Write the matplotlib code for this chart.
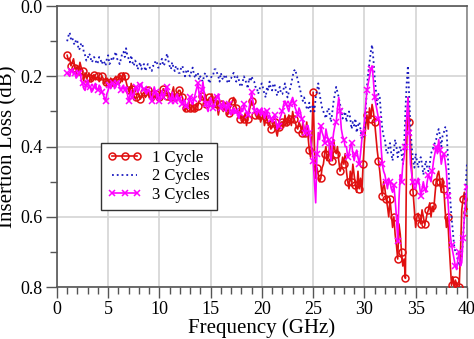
# plot.py
# Insertion loss vs frequency for 1, 2 and 3 cycles

import numpy as np
import matplotlib
matplotlib.use("Agg")
import matplotlib.pyplot as plt
from matplotlib.ticker import MultipleLocator

# frequency grid, 0.125 GHz steps from 1 to 40 GHz
freq = np.arange(1.0, 40.001, 0.125)

# one row of 8 values per GHz
loss_1cycle = [
    0.14, 0.155, 0.15, 0.17, 0.16, 0.15, 0.175, 0.18,
    0.17, 0.185, 0.16, 0.175, 0.185, 0.21, 0.19, 0.205,
    0.20, 0.19, 0.205, 0.215, 0.20, 0.195, 0.21, 0.205,
    0.20, 0.215, 0.21, 0.20, 0.205, 0.22, 0.215, 0.205,
    0.21, 0.22, 0.205, 0.21, 0.215, 0.205, 0.20, 0.21,
    0.21, 0.195, 0.20, 0.215, 0.19, 0.20, 0.215, 0.23,
    0.24, 0.25, 0.22, 0.235, 0.25, 0.265, 0.26, 0.245,
    0.25, 0.265, 0.26, 0.25, 0.245, 0.26, 0.255, 0.24,
    0.26, 0.255, 0.25, 0.27, 0.265, 0.25, 0.255, 0.265,
    0.26, 0.245, 0.25, 0.235, 0.24, 0.255, 0.255, 0.245,
    0.25, 0.26, 0.245, 0.23, 0.26, 0.255, 0.25, 0.24,
    0.24, 0.25, 0.26, 0.28, 0.30, 0.29, 0.285, 0.27,
    0.29, 0.30, 0.275, 0.29, 0.30, 0.28, 0.285, 0.27,
    0.27, 0.255, 0.26, 0.275, 0.28, 0.265, 0.27, 0.26,
    0.26, 0.25, 0.275, 0.265, 0.255, 0.28, 0.31, 0.29,
    0.28, 0.295, 0.30, 0.285, 0.29, 0.31, 0.305, 0.29,
    0.28, 0.27, 0.26, 0.28, 0.29, 0.305, 0.30, 0.32,
    0.31, 0.33, 0.32, 0.305, 0.34, 0.32, 0.30, 0.285,
    0.27, 0.28, 0.29, 0.31, 0.30, 0.32, 0.31, 0.33,
    0.32, 0.31, 0.34, 0.325, 0.32, 0.34, 0.33, 0.35,
    0.345, 0.33, 0.33, 0.355, 0.37, 0.345, 0.35, 0.33,
    0.33, 0.345, 0.31, 0.33, 0.34, 0.31, 0.32, 0.34,
    0.30, 0.32, 0.33, 0.345, 0.35, 0.33, 0.34, 0.36,
    0.33, 0.35, 0.36, 0.33, 0.37, 0.41, 0.43, 0.38,
    0.245, 0.40, 0.49, 0.46, 0.48, 0.50, 0.49, 0.46,
    0.45, 0.42, 0.40, 0.44, 0.43, 0.39, 0.41, 0.44,
    0.38, 0.41, 0.42, 0.40, 0.44, 0.47, 0.46, 0.43,
    0.45, 0.42, 0.47, 0.50, 0.52, 0.47, 0.50, 0.45,
    0.48, 0.51, 0.53, 0.47, 0.52, 0.49, 0.53, 0.45,
    0.39, 0.34, 0.31, 0.35, 0.29, 0.32, 0.28, 0.30,
    0.33, 0.37, 0.41, 0.44, 0.47, 0.51, 0.54, 0.50,
    0.52, 0.55, 0.57, 0.60, 0.55, 0.59, 0.63, 0.60,
    0.65, 0.68, 0.72, 0.62, 0.65, 0.70, 0.74, 0.72,
    0.775, 0.40, 0.26, 0.33, 0.39, 0.47, 0.53, 0.58,
    0.63, 0.60, 0.59, 0.61, 0.62, 0.58, 0.60, 0.62,
    0.61, 0.59, 0.58, 0.56, 0.60, 0.57, 0.585, 0.54,
    0.50, 0.48, 0.47, 0.50, 0.53, 0.49, 0.52, 0.58,
    0.63, 0.60, 0.67, 0.73, 0.795, 0.77, 0.80, 0.78,
    0.79, 0.80, 0.80, 0.70, 0.58, 0.55, 0.53, 0.56,
    0.585,
]

loss_2cycles = [
    0.10, 0.085, 0.075, 0.095, 0.09, 0.105, 0.11, 0.095,
    0.10, 0.125, 0.12, 0.105, 0.11, 0.13, 0.14, 0.155,
    0.15, 0.135, 0.14, 0.16, 0.155, 0.145, 0.15, 0.165,
    0.16, 0.145, 0.15, 0.165, 0.155, 0.16, 0.17, 0.15,
    0.14, 0.165, 0.16, 0.145, 0.15, 0.14, 0.13, 0.15,
    0.155, 0.165, 0.15, 0.135, 0.13, 0.145, 0.12, 0.14,
    0.15, 0.16, 0.14, 0.16, 0.17, 0.155, 0.16, 0.18,
    0.17, 0.16, 0.18, 0.17, 0.165, 0.185, 0.175, 0.165,
    0.17, 0.18, 0.185, 0.17, 0.17, 0.155, 0.16, 0.175,
    0.175, 0.16, 0.15, 0.17, 0.165, 0.15, 0.135, 0.155,
    0.17, 0.18, 0.16, 0.175, 0.185, 0.17, 0.175, 0.19,
    0.19, 0.175, 0.17, 0.19, 0.20, 0.185, 0.18, 0.195,
    0.20, 0.185, 0.175, 0.195, 0.205, 0.19, 0.19, 0.21,
    0.20, 0.21, 0.215, 0.195, 0.19, 0.20, 0.205, 0.22,
    0.21, 0.195, 0.195, 0.18, 0.18, 0.19, 0.20, 0.215,
    0.19, 0.205, 0.21, 0.195, 0.20, 0.215, 0.22, 0.205,
    0.205, 0.195, 0.19, 0.205, 0.215, 0.20, 0.21, 0.225,
    0.23, 0.215, 0.20, 0.21, 0.22, 0.235, 0.205, 0.215,
    0.20, 0.21, 0.215, 0.23, 0.23, 0.25, 0.24, 0.225,
    0.22, 0.235, 0.25, 0.26, 0.23, 0.24, 0.215, 0.235,
    0.24, 0.22, 0.225, 0.245, 0.255, 0.24, 0.23, 0.25,
    0.25, 0.235, 0.22, 0.24, 0.26, 0.245, 0.235, 0.22,
    0.20, 0.185, 0.18, 0.195, 0.21, 0.225, 0.24, 0.26,
    0.27, 0.26, 0.28, 0.29, 0.295, 0.275, 0.30, 0.29,
    0.28, 0.30, 0.26, 0.24, 0.22, 0.25, 0.27, 0.29,
    0.30, 0.31, 0.32, 0.30, 0.29, 0.31, 0.33, 0.30,
    0.27, 0.25, 0.23, 0.245, 0.26, 0.28, 0.29, 0.32,
    0.31, 0.30, 0.33, 0.31, 0.30, 0.32, 0.35, 0.33,
    0.34, 0.32, 0.36, 0.34, 0.33, 0.35, 0.38, 0.37,
    0.35, 0.30, 0.23, 0.19, 0.16, 0.13, 0.11, 0.15,
    0.20, 0.24, 0.28, 0.25, 0.26, 0.31, 0.35, 0.37,
    0.38, 0.41, 0.42, 0.40, 0.39, 0.42, 0.44, 0.41,
    0.38, 0.40, 0.43, 0.41, 0.40, 0.42, 0.45, 0.40,
    0.30, 0.22, 0.17, 0.26, 0.35, 0.40, 0.44, 0.46,
    0.42, 0.44, 0.46, 0.44, 0.43, 0.45, 0.48, 0.46,
    0.44, 0.46, 0.47, 0.45, 0.42, 0.41, 0.40, 0.39,
    0.38, 0.36, 0.35, 0.37, 0.40, 0.37, 0.36, 0.345,
    0.345, 0.42, 0.49, 0.55, 0.60, 0.64, 0.68, 0.70,
    0.70, 0.73, 0.74, 0.72, 0.72, 0.66, 0.60, 0.52,
    0.45,
]

loss_3cycles = [
    0.19, 0.195, 0.20, 0.185, 0.18, 0.19, 0.19, 0.205,
    0.20, 0.19, 0.185, 0.21, 0.22, 0.235, 0.24, 0.225,
    0.21, 0.225, 0.23, 0.245, 0.24, 0.23, 0.22, 0.235,
    0.24, 0.225, 0.23, 0.245, 0.25, 0.26, 0.27, 0.25,
    0.24, 0.225, 0.235, 0.22, 0.22, 0.235, 0.23, 0.22,
    0.215, 0.23, 0.24, 0.23, 0.225, 0.24, 0.23, 0.25,
    0.27, 0.255, 0.24, 0.26, 0.25, 0.235, 0.23, 0.245,
    0.24, 0.225, 0.22, 0.24, 0.235, 0.245, 0.25, 0.24,
    0.24, 0.255, 0.27, 0.25, 0.23, 0.245, 0.26, 0.25,
    0.27, 0.255, 0.24, 0.26, 0.25, 0.24, 0.23, 0.245,
    0.26, 0.27, 0.245, 0.26, 0.27, 0.255, 0.25, 0.265,
    0.26, 0.27, 0.28, 0.265, 0.27, 0.285, 0.29, 0.27,
    0.26, 0.275, 0.28, 0.265, 0.25, 0.235, 0.22, 0.25,
    0.27, 0.24, 0.215, 0.25, 0.28, 0.29, 0.30, 0.28,
    0.26, 0.275, 0.29, 0.28, 0.27, 0.26, 0.25, 0.27,
    0.29, 0.28, 0.27, 0.285, 0.30, 0.29, 0.28, 0.30,
    0.31, 0.30, 0.29, 0.305, 0.30, 0.31, 0.32, 0.305,
    0.29, 0.30, 0.28, 0.295, 0.30, 0.31, 0.29, 0.27,
    0.245, 0.27, 0.29, 0.30, 0.31, 0.295, 0.30, 0.31,
    0.29, 0.305, 0.32, 0.31, 0.30, 0.32, 0.31, 0.32,
    0.33, 0.32, 0.31, 0.33, 0.35, 0.34, 0.32, 0.31,
    0.30, 0.28, 0.27, 0.28, 0.29, 0.30, 0.28, 0.27,
    0.26, 0.275, 0.29, 0.30, 0.31, 0.29, 0.30, 0.32,
    0.33, 0.35, 0.36, 0.34, 0.34, 0.36, 0.38, 0.41,
    0.44, 0.50, 0.56, 0.42, 0.36, 0.38, 0.34, 0.36,
    0.37, 0.39, 0.35, 0.37, 0.38, 0.41, 0.44, 0.39,
    0.36, 0.34, 0.33, 0.29, 0.26, 0.30, 0.35, 0.37,
    0.38, 0.40, 0.40, 0.43, 0.42, 0.40, 0.39, 0.42,
    0.44, 0.42, 0.41, 0.43, 0.45, 0.42, 0.38, 0.36,
    0.33, 0.28, 0.24, 0.22, 0.20, 0.18, 0.17, 0.21,
    0.26, 0.28, 0.30, 0.32, 0.33, 0.40, 0.45, 0.47,
    0.48, 0.50, 0.52, 0.49, 0.50, 0.52, 0.53, 0.51,
    0.55, 0.60, 0.67, 0.55, 0.48, 0.50, 0.45, 0.43,
    0.40, 0.32, 0.26, 0.36, 0.45, 0.48, 0.50, 0.52,
    0.52, 0.50, 0.49, 0.51, 0.54, 0.52, 0.50, 0.52,
    0.53, 0.50, 0.48, 0.49, 0.50, 0.47, 0.44, 0.42,
    0.40, 0.42, 0.38, 0.41, 0.45, 0.43, 0.42, 0.44,
    0.47, 0.54, 0.60, 0.65, 0.68, 0.70, 0.72, 0.74,
    0.75, 0.72, 0.70, 0.74, 0.73, 0.66, 0.60, 0.56,
    0.515,
]

labels = ["1 Cycle", "2 Cycles", "3 Cycles"]

plt.rcParams["font.family"] = ["Liberation Serif", "DejaVu Serif"]

fig = plt.figure(figsize=(4.74, 3.39), dpi=100)
ax = fig.add_axes([0.120, 0.153, 0.865, 0.829])

ax.plot(freq, loss_1cycle, color="#e01010", lw=1.2, marker="o", ms=5,
        mfc="none", mec="#e01010", mew=1.1, markevery=3, label=labels[0], zorder=3)
ax.plot(freq, loss_2cycles, color="#1c1cc0", lw=1.3, ls=":", label=labels[1], zorder=4)
ax.plot(freq, loss_3cycles, color="#ff00ff", lw=1.2, marker="x", ms=5,
        mew=1.1, markevery=3, label=labels[2], zorder=5)

ax.set_xlim(0, 40)
ax.xaxis.set_major_locator(MultipleLocator(5))
ax.xaxis.set_minor_locator(MultipleLocator(1))
ax.set_yticks([0.0, 0.2, 0.4, 0.6, 0.8])
ax.set_yticklabels(["0.0", "0.2", "0.4", "0.6", "0.8"])
ax.yaxis.set_minor_locator(MultipleLocator(0.1))
ax.set_ylim(0.8, 0.0)

ax.grid(True, which="major", color="#d4d4d4", lw=1.2, zorder=0)
ax.set_axisbelow(True)
for s in ax.spines.values():
    s.set_color("#555555")
    s.set_linewidth(1.2)
ax.spines["right"].set_color("#888888")

ax.tick_params(which="major", direction="out", length=8, width=1, color="#555555",
               labelsize=13, pad=2)
ax.tick_params(which="minor", direction="out", length=5, width=1, color="#555555")

ax.set_xlabel("Frequency (GHz)", fontsize=15, labelpad=0)
ax.set_ylabel("Insertion Loss (dB)", fontsize=15, labelpad=2)

leg = ax.legend(loc="upper left", bbox_to_anchor=(0.107, 0.512), borderaxespad=0,
                fontsize=12, numpoints=3, handlelength=2.1, handletextpad=0.6,
                labelspacing=0.15, borderpad=0.4, fancybox=False, framealpha=1,
                edgecolor="#333333")
leg.get_frame().set_linewidth(1.0)

fig.savefig("out.png", dpi=100)
